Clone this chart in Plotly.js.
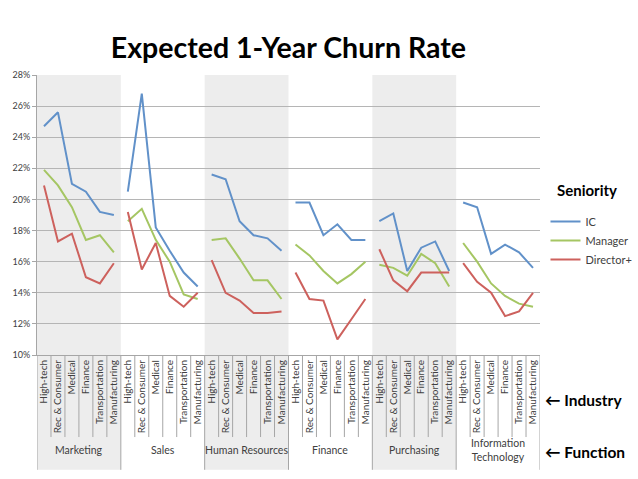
<!DOCTYPE html>
<html><head><meta charset="utf-8">
<script src="https://cdn.plot.ly/plotly-3.0.1.min.js"></script>
<style>html,body{margin:0;padding:0;background:#fff}#chart{width:638px;height:479px}</style>
</head><body><div id="chart"></div>
<script>
const functions = ['Marketing','Sales','Human Resources','Finance','Purchasing','Information<br>Technology'];
const industries = ['High-tech','Rec & Consumer','Medical','Finance','Transportation','Manufacturing'];
const seriesNames = ['IC','Manager','Director+'];
const ic = [24.7,25.6,21.0,20.5,19.2,19.0, 20.5,26.8,18.2,16.7,15.3,14.4, 21.6,21.3,18.6,17.7,17.5,16.7,
            19.8,19.8,17.7,18.4,17.4,17.4, 18.6,19.1,15.4,16.9,17.3,15.4, 19.8,19.5,16.5,17.1,16.6,15.6];
const manager = [21.9,20.9,19.5,17.4,17.7,16.6, 18.6,19.4,17.4,16.0,13.9,13.6, 17.4,17.5,16.2,14.8,14.8,13.6,
            17.1,16.4,15.4,14.6,15.2,16.0, 15.8,15.6,15.1,16.5,15.9,14.4, 17.2,16.0,14.6,13.8,13.3,13.1];
const director = [20.9,17.3,17.8,15.0,14.6,15.9, 19.2,15.5,17.2,13.8,13.1,14.0, 16.1,14.0,13.5,12.7,12.7,12.8,
            15.3,13.6,13.5,11.0,12.3,13.6, 16.8,14.8,14.1,15.3,15.3,15.3, 15.9,14.7,14.0,12.5,12.8,14.0];
const colors = ['#6191C9','#A5C663','#CD615D'];

const nI = industries.length, nF = functions.length;
function split(vals){
  const xs=[], ys=[];
  for(let g=0; g<nF; g++){
    for(let i=0;i<nI;i++){ xs.push(g*nI+i); ys.push(vals[g*nI+i]); }
    xs.push(null); ys.push(null);
  }
  return {xs, ys};
}
const traces = [ic, manager, director].map((v,k)=>{
  const s = split(v);
  return {x:s.xs, y:s.ys, type:'scatter', mode:'lines', name:seriesNames[k],
    line:{color:colors[k], width:2}, connectgaps:false};
});

const tickvals=[], ticktext=[];
for(let g=0; g<nF; g++) for(let i=0;i<nI;i++){ tickvals.push(g*nI+i); ticktext.push(industries[i]); }

const shapes=[];
const lowInd = -0.293, lowFun = -0.41;
for(let g=0; g<nF; g+=2){
  shapes.push({type:'rect', xref:'x', yref:'paper', x0:g*nI-0.5, x1:g*nI+nI-0.5, y0:lowFun, y1:1,
    fillcolor:'#EDEDED', line:{width:0}, layer:'below'});
}
for(let k=0; k<=nF*nI; k++){
  const isGroup = (k % nI === 0);
  shapes.push({type:'line', xref:'x', yref:'paper', x0:k-0.5, x1:k-0.5, y0:0, y1:isGroup?lowFun:lowInd,
    line:{color:'#A6A6A6', width:1}, layer:'above'});
}
const annotations = functions.map((f,g)=>({xref:'x', yref:'paper', x:g*nI+(nI-1)/2, y:-0.34,
  text:f, showarrow:false, font:{family:'Lato', size:10.5, color:'#404040'}, yanchor:'middle'}));
annotations.push({xref:'paper', yref:'paper', x:1.005, y:-0.16, xanchor:'left', yanchor:'middle',
  text:'<b>← Industry</b>', showarrow:false, font:{family:'Lato', size:15.5, color:'#000'}});
annotations.push({xref:'paper', yref:'paper', x:1.005, y:-0.345, xanchor:'left', yanchor:'middle',
  text:'<b>← Function</b>', showarrow:false, font:{family:'Lato', size:15.5, color:'#000'}});
annotations.push({xref:'paper', yref:'paper', x:1.03, y:0.589, xanchor:'left', yanchor:'middle',
  text:'<b>Seniority</b>', showarrow:false, font:{family:'Lato', size:15, color:'#000'}});

const layout = {
  width:638, height:479,
  margin:{l:37, r:98, t:75, b:124},
  paper_bgcolor:'#fff', plot_bgcolor:'rgba(0,0,0,0)',
  title:{text:'<b>Expected 1-Year Churn Rate</b>', x:0.452, xanchor:'center', y:0.9, yanchor:'middle',
    font:{family:'Lato', size:28.5, color:'#000'}},
  xaxis:{range:[-0.5, nF*nI-0.5], tickvals:tickvals, ticktext:ticktext, tickangle:-90,
    tickfont:{family:'Lato', size:10, color:'#404040'}, showgrid:false, zeroline:false,
    showline:true, linecolor:'#A6A6A6', ticks:'', fixedrange:true},
  yaxis:{range:[10,28], dtick:2, ticksuffix:'%', tickfont:{family:'Lato', size:9, color:'#404040'},
    showgrid:true, gridcolor:'#B5B5B5', gridwidth:1, zeroline:false, showline:true, linecolor:'#A6A6A6',
    ticks:'outside', ticklen:4, tickcolor:'#A6A6A6'},
  showlegend:true,
  legend:{xref:'container', yref:'container', x:0.855, y:0.568, xanchor:'left', yanchor:'top',
    font:{family:'Lato', size:11, color:'#404040'}, itemwidth:30, bgcolor:'rgba(0,0,0,0)', tracegroupgap:0},
  shapes:shapes, annotations:annotations
};
Plotly.newPlot('chart', traces, layout, {displayModeBar:false, staticPlot:true});
</script></body></html>
